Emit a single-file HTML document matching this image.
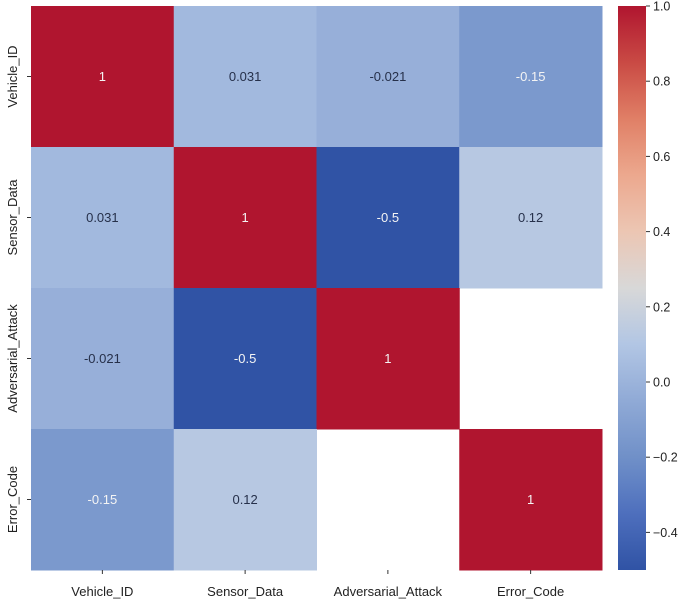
<!DOCTYPE html>
<html><head><meta charset="utf-8"><style>
body{margin:0;background:#fff;}
svg{font-family:"Liberation Sans","DejaVu Sans",sans-serif;}
</style></head><body>
<svg id="chart" width="685" height="600"></svg>
<script>
const categories=["Vehicle_ID","Sensor_Data","Adversarial_Attack","Error_Code"];
const row0=[1,0.031,-0.021,-0.15];
const row1=[0.031,1,-0.5,0.12];
const row2=[-0.021,-0.5,1,null];
const row3=[-0.15,0.12,null,1];
const matrix=[row0,row1,row2,row3];
const labels0=["1","0.031","-0.021","-0.15"];
const labels1=["0.031","1","-0.5","0.12"];
const labels2=["-0.021","-0.5","1",""];
const labels3=["-0.15","0.12","","1"];
const cellLabels=[labels0,labels1,labels2,labels3];
const cbTicks=[1.0,0.8,0.6,0.4,0.2,0.0,-0.2,-0.4];
const cbTickLabels=["1.0","0.8","0.6","0.4","0.2","0.0","\u22120.2","\u22120.4"];
const vmin=-0.5,vmax=1.0;

const NS="http://www.w3.org/2000/svg";
const svg=document.getElementById('chart');
const L=31,T=6,W=571,H=564;
const cw=W/4,ch=H/4;
const anchors=["#3053a5","#4e6fbd","#7090c8","#90aad6","#b2c6e4","#d8d8d8","#ecc6b3","#eca88e","#e07f66","#c94a44","#b0152f"].map(h=>[1,3,5].map(i=>parseInt(h.substr(i,2),16)));
function cmap(v){let t=(v-vmin)/(vmax-vmin);t=Math.max(0,Math.min(1,t));const p=t*10,i=Math.min(9,Math.floor(p)),f=p-i;
 const c=anchors[i].map((a,k)=>Math.round(a+(anchors[i+1][k]-a)*f));return c;}
function el(tag,attrs){const e=document.createElementNS(NS,tag);for(const k in attrs)e.setAttribute(k,attrs[k]);svg.appendChild(e);return e;}
const xPos=i=>L+i*cw, yPos=j=>T+j*ch;
const yScale=v=>T+H-(v-vmin)/(vmax-vmin)*H;

for(let r=0;r<4;r++)for(let c=0;c<4;c++){
 const v=matrix[r][c]; if(v===null)continue;
 const col=cmap(v);
 const rect=el('rect',{x:xPos(c),y:yPos(r),width:cw+0.5,height:ch+0.5,fill:`rgb(${col})`});
 
 
 const lum=(0.2126*col[0]+0.7152*col[1]+0.0722*col[2])/255;
 const t=el('text',{x:xPos(c)+cw/2,y:yPos(r)+ch/2+4.5,'text-anchor':'middle','font-size':13,fill:lum<0.62?'#f4f4f4':'#26304a'});
 t.textContent=cellLabels[r][c];
 
 
}
categories.forEach((name,i)=>{
 const tx=el('text',{x:xPos(i)+cw/2,y:596,'text-anchor':'middle','font-size':13,fill:'#222'});
 tx.textContent=name;
 
 
 el('line',{x1:xPos(i)+cw/2,x2:xPos(i)+cw/2,y1:T+H,y2:T+H+4,stroke:'#333'});
 const cy=yPos(i)+ch/2;
 const ty=el('text',{x:0,y:0,transform:`translate(17,${cy}) rotate(-90)`,'text-anchor':'middle','font-size':13,fill:'#222'});
 ty.textContent=name;
 
 
 el('line',{x1:L-4,x2:L,y1:cy,y2:cy,stroke:'#333'});
});
const defs=el('defs',{});
const g=document.createElementNS(NS,'linearGradient');g.setAttribute('id','cb');g.setAttribute('x1','0');g.setAttribute('y1','1');g.setAttribute('x2','0');g.setAttribute('y2','0');
for(let i=0;i<=20;i++){const s=document.createElementNS(NS,'stop');s.setAttribute('offset',i/20);s.setAttribute('stop-color',`rgb(${cmap(vmin+(vmax-vmin)*i/20)})`);g.appendChild(s);}
defs.appendChild(g);
const cb=el('rect',{x:618,y:T,width:28,height:H,fill:'url(#cb)'});


cbTicks.forEach((v,i)=>{
 const y=yScale(v);
 el('line',{x1:646,x2:650,y1:y,y2:y,stroke:'#333'});
 const t=el('text',{x:653,y:y+4.5,'font-size':12.5,fill:'#222'});
 t.textContent=cbTickLabels[i];
 
 
});
</script>
</body></html>
